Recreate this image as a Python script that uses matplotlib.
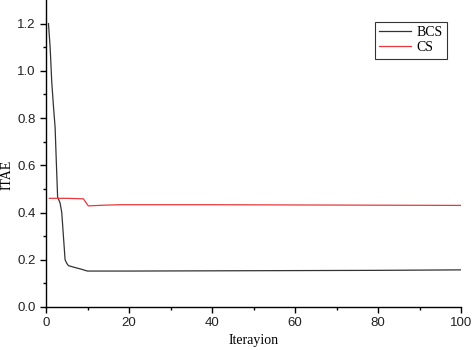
import numpy as np
import matplotlib.pyplot as plt

# valores
bcs_x = [0.6, 1.0, 1.4, 1.8, 2.2, 2.5, 2.8, 3.4, 3.8, 4.2, 4.6, 5.0, 5.4, 6.0, 7.4, 8.5, 9.4, 10, 20, 40, 60, 80, 100]
bcs_y = [1.2, 1.1, 0.95, 0.85, 0.76, 0.61, 0.466, 0.44, 0.40, 0.30, 0.20, 0.185, 0.175, 0.172, 0.165, 0.16, 0.155, 0.152, 0.152, 0.153, 0.154, 0.155, 0.157]
cs_x = [0.8, 5, 9.0, 10.2, 14, 18, 40, 60, 80, 100]
cs_y = [0.46, 0.46, 0.458, 0.428, 0.431, 0.433, 0.433, 0.432, 0.431, 0.43]

fig = plt.figure(figsize=(4.74, 3.5), dpi=100)
ax = fig.add_axes([0.097, 0.123, 0.876, 0.877])

ax.plot(bcs_x, bcs_y, color='#333333', lw=0.9, label='BCS')
ax.plot(cs_x, cs_y, color='#e8383d', lw=0.9, label='CS')

ax.set_xlim(0, 100)
ax.set_ylim(0, 1.3)
ax.set_xticks([0, 20, 40, 60, 80, 100])
ax.set_xticks(np.arange(10, 100, 20), minor=True)
ax.set_yticks([0.0, 0.2, 0.4, 0.6, 0.8, 1.0, 1.2])
ax.set_yticks(np.arange(0.1, 1.3, 0.2), minor=True)
ax.yaxis.set_major_formatter(plt.FormatStrFormatter('%.1f'))

for s in ['top', 'right']:
    ax.spines[s].set_visible(False)
for s in ['left', 'bottom']:
    ax.spines[s].set_linewidth(1.0)

ax.tick_params(which='major', direction='out', length=4, width=1, labelsize=9.5)
ax.tick_params(which='minor', direction='out', length=2.5, width=1)
for lab in ax.get_xticklabels() + ax.get_yticklabels():
    lab.set_family('Liberation Sans')
    lab.set_color('#222222')

ax.set_xlabel('Iterayion', family='Liberation Serif', fontsize=10, labelpad=3)
ax.set_ylabel('ITAE', family='Liberation Serif', fontsize=10, labelpad=2)
ax.yaxis.set_label_coords(-0.078, 0.43)

leg = ax.legend(loc='upper right', bbox_to_anchor=(0.966, 0.928), frameon=True, fancybox=False,
                prop={'family': 'Liberation Serif', 'size': 10}, handlelength=2.3,
                borderpad=0.3, labelspacing=0.15, handletextpad=0.4, borderaxespad=0)
leg.get_frame().set_edgecolor('black')
leg.get_frame().set_linewidth(0.8)

fig.savefig('out.png', dpi=100)
